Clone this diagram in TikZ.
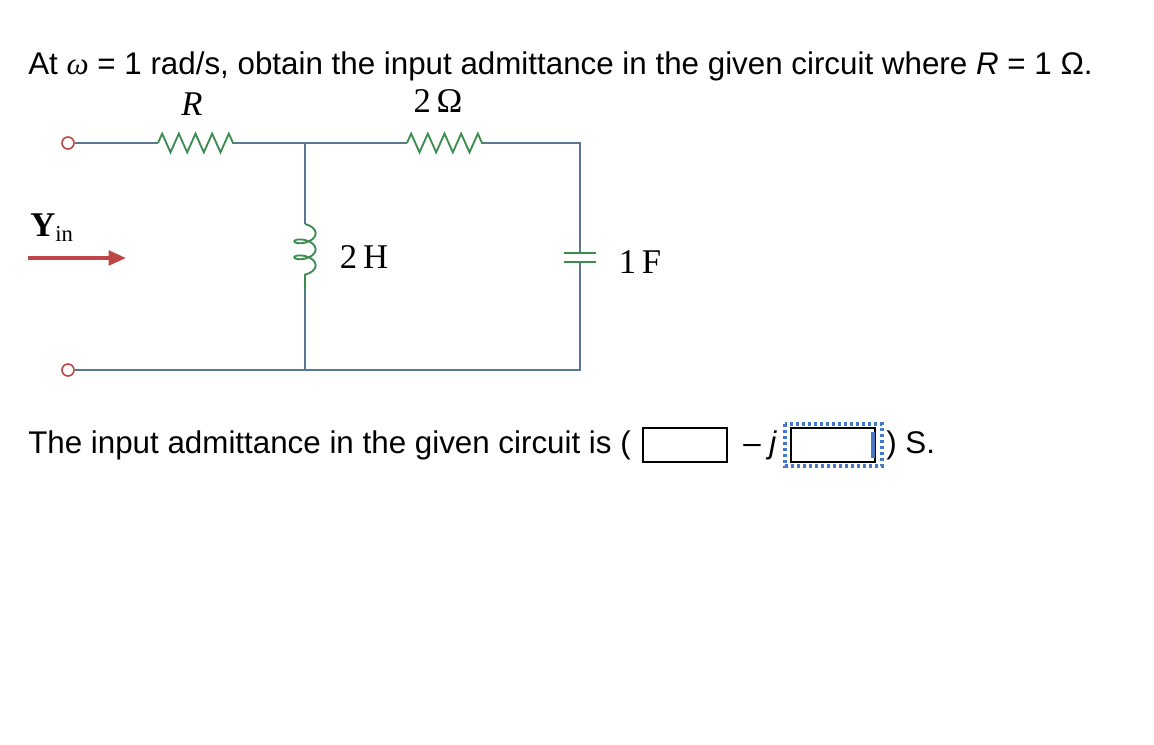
\documentclass[tikz,border=0pt]{standalone}
\usepackage{fontspec}
\setmainfont{Liberation Sans}
\newfontfamily\serifc{Liberation Serif}
\usetikzlibrary{decorations.pathmorphing,arrows.meta,calc}
\definecolor{wire}{RGB}{90,120,150}
\definecolor{comp}{RGB}{60,140,80}
\definecolor{term}{RGB}{190,70,70}
\definecolor{sel}{RGB}{70,120,200}
\tikzset{
 w/.style={wire,line width=1.3pt},
 res/.style={comp,line width=1.4pt,decorate,decoration={zigzag,segment length=12.5pt,amplitude=7pt}},
 tm/.style={circle,draw=term,line width=1.2pt,minimum size=9pt,inner sep=0pt,fill=white},
 lab/.style={font=\serifc\fontsize{26}{28}\selectfont,inner sep=0pt},
 txt/.style={font=\fontsize{23.5}{26}\selectfont,inner sep=0pt,anchor=base west},
 ans/.style={draw,line width=1.3pt,minimum width=63pt,minimum height=25pt,inner sep=0pt}
}
\begin{document}
\begin{tikzpicture}[x=0.75pt,y=-0.75pt]
\useasboundingbox (0,0) rectangle (1154,744);
\node[txt] (title) at (28,74) {At \textit{\serifc ω} = 1 rad/s, obtain the input admittance in the given circuit where \textit{R} = 1 Ω.};
% nodes
\node[tm] (t1) at (68,143) {};
\node[tm] (t2) at (68,370) {};
\coordinate (r1a) at (158,143); \coordinate (r1b) at (234,143);
\coordinate (j1) at (305,143); \coordinate (j2) at (305,370);
\coordinate (r2a) at (407,143); \coordinate (r2b) at (484,143);
\coordinate (c1) at (580,143); \coordinate (c2) at (580,370);
\coordinate (la) at (305,224); \coordinate (lb) at (305,290);
\coordinate (cpa) at (580,253); \coordinate (cpb) at (580,262);
% wires
\draw[w] (t1) -- (r1a); \draw[w] (r1b) -- (j1) -- (r2a);
\draw[w] (r2b) -- (c1) -- (cpa);
\draw[w] (cpb) -- (c2) -- (j2) -- (t2);
\draw[w] (j1) -- (la); \draw[w] (lb) -- (j2);
\draw[res] (r1a) -- (r1b);
\draw[res] (r2a) -- (r2b);
\draw[comp,line width=1.4pt,decorate,decoration={coil,segment length=12pt,amplitude=8pt,aspect=0.5}] (la) -- (lb);
\draw[comp,line width=1.4pt] ($(cpa)+(-16,0)$) -- ($(cpa)+(16,0)$);
\draw[comp,line width=1.4pt] ($(cpb)+(-16,0)$) -- ($(cpb)+(16,0)$);
% labels
\node[lab] (lR) at (192,104) {\textit{R}};
\node[lab] (l2) at (438,101) {2\,Ω};
\node[lab] (lH) at (364,257) {2\,H};
\node[lab] (lF) at (640,262) {1\,F};
\node[lab,anchor=west] (ly) at (30,228) {\textbf{Y}\textsubscript{\fontsize{17}{18}\selectfont in}};
\coordinate (a1) at (28,258); \coordinate (a2) at (126,258);
\draw[term,line width=2.4pt,-{Triangle[length=13pt,width=11pt]}] (a1) -- (a2);
% answer line
\node[txt] (q) at (28,453) {The input admittance in the given circuit is (};
\node[ans] (b1) at (685,445) {};
\node[txt] (mj) at (743,453) {– \textit{j}};
\draw[sel,line width=2.5pt,dash pattern=on 2.5pt off 2pt] (785,424) rectangle (882,466);
\node[ans] (b2) at (833,445) {};
\draw[sel,line width=2.4pt] (873,432) -- (873,458);
\node[txt] (s) at (886,453) {) S.};
\end{tikzpicture}
\end{document}
